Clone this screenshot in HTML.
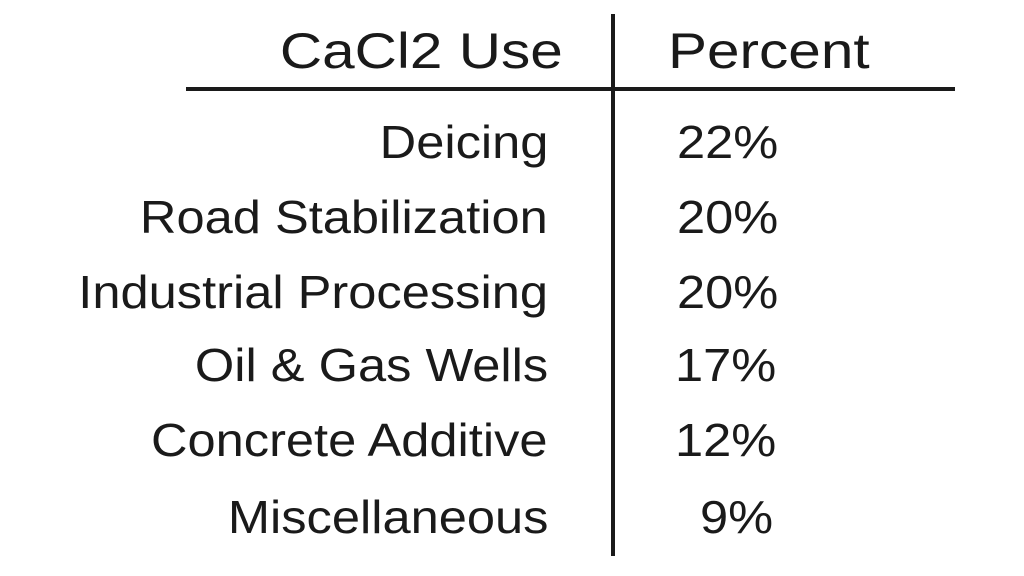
<!DOCTYPE html>
<html><head><meta charset="utf-8"><style>
body{margin:0;width:1024px;height:576px;background:#fff;position:relative;overflow:hidden;font-family:"Liberation Sans",Arial,sans-serif;color:#1a1a1a}
.t{position:absolute;font-size:46px;line-height:53px;white-space:nowrap;transform:scaleX(1.1);transform-origin:left top}
.r{right:476px;text-align:right;transform-origin:right top}
.h{font-size:50px;line-height:58px;transform:scaleX(1.17)}
</style></head><body>
<div style="position:absolute;left:611px;top:14px;width:4px;height:542px;background:#1a1a1a"></div>
<div style="position:absolute;left:186px;top:87px;width:769px;height:4px;background:#1a1a1a"></div>
<div class="t h r" style="right:461px;top:22px">CaCl2 Use</div>
<div class="t h" style="left:668px;top:22px">Percent</div>
<div class="t r" style="top:116px">Deicing</div>
<div class="t r" style="top:191px">Road Stabilization</div>
<div class="t r" style="top:266px">Industrial Processing</div>
<div class="t r" style="top:339px">Oil &amp; Gas Wells</div>
<div class="t r" style="top:414px">Concrete Additive</div>
<div class="t r" style="top:491px">Miscellaneous</div>
<div class="t" style="left:677px;top:116px">22%</div>
<div class="t" style="left:677px;top:191px">20%</div>
<div class="t" style="left:677px;top:266px">20%</div>
<div class="t" style="left:675px;top:339px">17%</div>
<div class="t" style="left:675px;top:414px">12%</div>
<div class="t" style="left:700px;top:491px">9%</div>
</body></html>
